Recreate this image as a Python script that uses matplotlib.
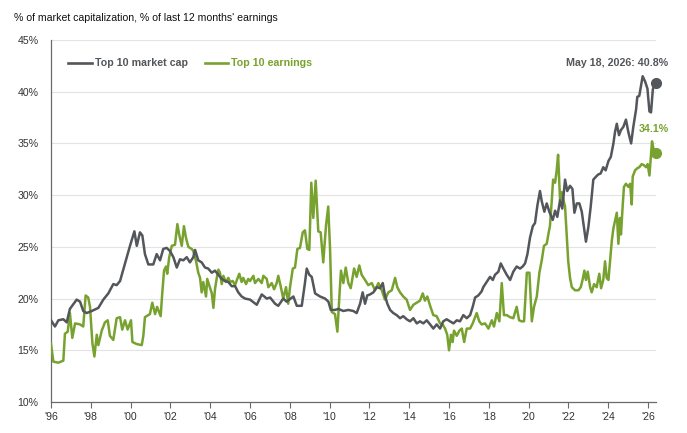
import matplotlib
matplotlib.use("Agg")
import matplotlib.pyplot as plt
from matplotlib import font_manager

# ---------------- data ----------------
mc_years = [1996.00, 1996.20, 1996.37, 1996.62, 1996.79, 1996.95, 1997.29, 1997.46, 1997.62, 1997.79,
            1998.05, 1998.38, 1998.63, 1998.88, 1999.13, 1999.30, 1999.47, 1999.63, 1999.80, 1999.97,
            2000.19, 2000.31, 2000.47, 2000.59, 2000.72, 2000.89, 2001.14, 2001.31, 2001.48, 2001.64,
            2001.81, 2001.98, 2002.15, 2002.32, 2002.48, 2002.65, 2002.82, 2002.98, 2003.15, 2003.24,
            2003.40, 2003.57, 2003.74, 2003.90, 2004.08, 2004.24, 2004.41, 2004.58, 2004.74, 2004.91,
            2005.08, 2005.25, 2005.41, 2005.58, 2005.75, 2006.00, 2006.34, 2006.59, 2006.84, 2007.01,
            2007.26, 2007.42, 2007.67, 2007.84, 2008.18, 2008.35, 2008.60, 2008.76, 2008.85, 2008.98,
            2009.10, 2009.27, 2009.52, 2009.77, 2009.94, 2010.06, 2010.27, 2010.44, 2010.69, 2010.94,
            2011.19, 2011.36, 2011.53, 2011.66, 2011.78, 2011.89, 2012.03, 2012.20, 2012.37, 2012.53,
            2012.67, 2012.78, 2012.90, 2013.04, 2013.20, 2013.37, 2013.54, 2013.70, 2013.87, 2014.04,
            2014.21, 2014.38, 2014.54, 2014.71, 2014.88, 2015.05, 2015.21, 2015.38, 2015.55, 2015.71,
            2015.88, 2016.05, 2016.22, 2016.39, 2016.55, 2016.72, 2016.89, 2017.06, 2017.19, 2017.31,
            2017.47, 2017.64, 2017.72, 2017.89, 2018.06, 2018.20, 2018.31, 2018.48, 2018.60, 2018.73,
            2018.90, 2019.07, 2019.23, 2019.40, 2019.57, 2019.70, 2019.82, 2019.94, 2020.07, 2020.21,
            2020.32, 2020.44, 2020.57, 2020.66, 2020.79, 2020.91, 2021.04, 2021.21, 2021.33, 2021.44,
            2021.58, 2021.69, 2021.83, 2021.94, 2022.08, 2022.20, 2022.30, 2022.42, 2022.55, 2022.67,
            2022.78, 2022.88, 2023.00, 2023.12, 2023.25, 2023.39, 2023.50, 2023.62, 2023.75, 2023.87,
            2024.01, 2024.13, 2024.26, 2024.34, 2024.43, 2024.54, 2024.64, 2024.76, 2024.89, 2025.01,
            2025.15, 2025.26, 2025.40, 2025.46, 2025.56, 2025.73, 2025.85, 2025.97, 2026.07, 2026.15,
            2026.24, 2026.30, 2026.38]
mc_values = [17.9, 17.3, 17.9, 18.0, 17.7, 19.0, 19.9, 19.7, 18.8, 18.6,
             18.8, 19.1, 19.9, 20.5, 21.4, 21.3, 21.7, 22.8, 24.0, 25.1,
             26.5, 25.1, 26.4, 26.1, 24.3, 23.3, 23.3, 24.3, 23.7, 24.8,
             24.9, 24.6, 24.0, 23.0, 23.8, 23.7, 24.0, 23.5, 24.0, 24.7,
             23.7, 23.5, 23.0, 22.9, 22.5, 22.7, 22.3, 21.9, 21.7, 21.6,
             21.2, 21.2, 20.6, 20.2, 20.0, 19.9, 19.4, 20.4, 20.0, 20.1,
             19.5, 19.3, 20.0, 19.7, 20.2, 19.3, 19.3, 21.5, 22.9, 22.3,
             22.1, 20.5, 20.2, 20.0, 19.7, 18.9, 18.9, 19.0, 18.8, 18.9,
             18.8, 18.6, 19.5, 20.6, 19.5, 20.3, 20.4, 20.6, 21.1, 21.0,
             21.5, 20.3, 19.5, 18.9, 18.6, 18.4, 18.1, 18.3, 18.0, 17.8,
             18.1, 17.6, 17.8, 17.6, 17.9, 17.5, 17.1, 17.5, 17.1, 17.8,
             18.0, 17.8, 17.6, 17.9, 17.8, 18.4, 18.1, 18.4, 19.2, 20.1,
             20.3, 20.7, 21.1, 21.6, 22.1, 21.8, 22.3, 22.6, 23.4, 22.9,
             22.3, 21.8, 22.6, 23.1, 22.9, 23.1, 23.4, 24.3, 25.9, 27.0,
             27.3, 29.0, 30.4, 29.4, 28.4, 29.2, 28.4, 27.6, 28.5, 27.9,
             29.5, 28.7, 31.5, 30.4, 30.9, 30.6, 28.3, 29.2, 29.2, 28.4,
             26.9, 25.5, 26.9, 28.9, 31.5, 31.8, 32.0, 32.1, 32.7, 32.4,
             33.3, 33.7, 35.0, 36.1, 36.9, 35.8, 36.3, 36.6, 37.3, 36.1,
             35.0, 36.6, 38.3, 39.5, 39.6, 41.5, 41.0, 40.3, 38.1, 38.0,
             40.2, 40.6, 40.8]

earn_years = [1996.00, 1996.12, 1996.37, 1996.62, 1996.70, 1996.84, 1996.95, 1997.07, 1997.21, 1997.46,
              1997.62, 1997.74, 1997.87, 1997.96, 1998.08, 1998.18, 1998.30, 1998.38, 1998.55, 1998.71,
              1998.85, 1998.96, 1999.13, 1999.30, 1999.47, 1999.58, 1999.72, 1999.85, 2000.02, 2000.09,
              2000.31, 2000.56, 2000.64, 2000.72, 2000.97, 2001.09, 2001.23, 2001.33, 2001.51, 2001.59,
              2001.68, 2001.78, 2001.84, 2001.94, 2002.07, 2002.23, 2002.35, 2002.45, 2002.57, 2002.68,
              2002.78, 2002.90, 2003.07, 2003.15, 2003.29, 2003.40, 2003.49, 2003.57, 2003.65, 2003.79,
              2003.85, 2003.95, 2004.08, 2004.16, 2004.24, 2004.33, 2004.41, 2004.49, 2004.58, 2004.66,
              2004.79, 2004.91, 2005.00, 2005.13, 2005.25, 2005.36, 2005.46, 2005.58, 2005.66, 2005.80,
              2005.91, 2006.00, 2006.17, 2006.25, 2006.42, 2006.59, 2006.67, 2006.84, 2006.92, 2007.09,
              2007.21, 2007.34, 2007.42, 2007.54, 2007.67, 2007.81, 2007.92, 2008.01, 2008.15, 2008.26,
              2008.38, 2008.51, 2008.65, 2008.76, 2008.88, 2008.98, 2009.08, 2009.18, 2009.30, 2009.43,
              2009.55, 2009.68, 2009.82, 2009.93, 2010.02, 2010.11, 2010.27, 2010.39, 2010.49, 2010.57,
              2010.69, 2010.81, 2010.94, 2011.06, 2011.23, 2011.36, 2011.49, 2011.61, 2011.78, 2011.94,
              2012.12, 2012.28, 2012.45, 2012.62, 2012.78, 2012.95, 2013.12, 2013.29, 2013.40, 2013.54,
              2013.70, 2013.87, 2014.04, 2014.21, 2014.38, 2014.54, 2014.68, 2014.79, 2014.91, 2015.05,
              2015.21, 2015.38, 2015.55, 2015.68, 2015.80, 2015.91, 2016.00, 2016.10, 2016.18, 2016.25,
              2016.39, 2016.52, 2016.64, 2016.76, 2016.89, 2017.06, 2017.19, 2017.39, 2017.52, 2017.64,
              2017.81, 2017.98, 2018.15, 2018.26, 2018.40, 2018.53, 2018.65, 2018.76, 2018.90, 2019.07,
              2019.23, 2019.40, 2019.52, 2019.65, 2019.77, 2019.91, 2020.04, 2020.16, 2020.27, 2020.41,
              2020.54, 2020.66, 2020.77, 2020.91, 2020.99, 2021.07, 2021.16, 2021.23, 2021.33, 2021.41,
              2021.48, 2021.58, 2021.66, 2021.74, 2021.83, 2021.91, 2021.99, 2022.08, 2022.17, 2022.33,
              2022.50, 2022.62, 2022.72, 2022.80, 2022.88, 2022.97, 2023.09, 2023.17, 2023.29, 2023.42,
              2023.55, 2023.64, 2023.75, 2023.84, 2023.92, 2024.01, 2024.09, 2024.18, 2024.26, 2024.34,
              2024.43, 2024.51, 2024.59, 2024.64, 2024.73, 2024.79, 2024.89, 2025.01, 2025.10, 2025.18,
              2025.23, 2025.35, 2025.46, 2025.56, 2025.68, 2025.79, 2025.90, 2025.98, 2026.07, 2026.14,
              2026.20, 2026.27, 2026.38]
earn_values = [15.6, 13.9, 13.8, 14.0, 16.6, 16.8, 18.6, 16.2, 17.6, 17.5,
               17.3, 20.3, 20.1, 19.2, 15.7, 14.4, 16.5, 15.5, 16.9, 17.7,
               17.9, 16.4, 16.0, 18.1, 18.2, 17.0, 17.9, 17.0, 17.9, 15.8,
               15.6, 15.5, 16.4, 18.2, 18.5, 19.6, 18.5, 19.2, 18.3, 20.5,
               22.7, 23.1, 22.4, 24.0, 25.1, 25.2, 27.2, 26.1, 25.1, 27.0,
               25.9, 25.0, 24.8, 24.6, 23.6, 22.5, 22.0, 20.6, 21.6, 20.2,
               21.9, 21.3, 20.5, 19.1, 20.9, 22.0, 22.8, 22.5, 21.4, 22.2,
               21.6, 22.0, 21.6, 21.7, 21.3, 21.9, 22.4, 21.6, 22.0, 21.4,
               21.9, 21.7, 22.2, 21.5, 21.9, 21.5, 22.2, 21.9, 21.1, 21.5,
               20.9, 21.5, 22.2, 21.2, 20.0, 21.1, 19.5, 21.1, 22.9, 23.0,
               24.8, 24.9, 26.4, 26.6, 24.8, 24.7, 31.2, 27.8, 31.4, 26.5,
               26.4, 23.5, 27.1, 28.9, 24.9, 18.7, 18.5, 16.8, 20.2, 22.7,
               21.5, 23.0, 21.5, 21.0, 22.9, 22.1, 23.2, 22.3, 21.8, 21.3,
               21.5, 20.8, 21.5, 20.8, 19.9, 20.6, 20.8, 22.0, 21.1, 20.6,
               20.2, 19.9, 18.9, 19.4, 19.6, 19.8, 20.5, 19.8, 20.2, 19.3,
               18.4, 18.3, 17.6, 17.5, 17.1, 16.5, 15.0, 16.5, 15.8, 16.9,
               16.4, 16.9, 17.1, 15.8, 17.1, 17.1, 17.6, 18.6, 17.8, 17.5,
               17.6, 17.1, 17.9, 17.3, 18.6, 17.8, 21.5, 18.4, 18.4, 18.2,
               18.1, 19.2, 17.9, 17.8, 17.8, 22.5, 22.5, 17.8, 19.2, 20.2,
               22.5, 23.7, 25.1, 25.3, 26.2, 27.0, 29.4, 31.5, 31.2, 32.4,
               33.9, 29.5, 30.3, 29.6, 28.9, 26.2, 23.6, 22.0, 21.1, 20.8,
               20.8, 21.1, 21.9, 22.7, 21.8, 22.6, 21.1, 20.6, 21.4, 21.1,
               22.4, 21.0, 21.8, 23.6, 22.0, 21.8, 23.6, 25.6, 26.8, 27.5,
               28.3, 25.3, 27.8, 26.2, 29.1, 30.8, 31.1, 30.8, 31.1, 29.1,
               31.8, 32.4, 32.6, 32.7, 33.0, 32.9, 32.7, 33.0, 31.9, 33.7,
               35.2, 34.5, 34.1]

x_ticks = list(range(1996, 2027, 2))
x_tick_labels = ["'" + str(y)[2:] for y in x_ticks]
y_ticks = [10, 15, 20, 25, 30, 35, 40, 45]
y_tick_labels = [f"{v}%" for v in y_ticks]

series_names = ["Top 10 market cap", "Top 10 earnings"]
title_text = "% of market capitalization, % of last 12 months' earnings"
end_label_mc = "May 18, 2026: 40.8%"
end_label_earn = "34.1%"

# ---------------- style ----------------
GRAY = "#53565a"
GREEN = "#78a22f"
AXIS = "#6b6b6b"

available = {f.name for f in font_manager.fontManager.ttflist}
base_font = "Liberation Sans" if "Liberation Sans" in available else "DejaVu Sans"
narrow_font = "Liberation Sans Narrow" if "Liberation Sans Narrow" in available else base_font
plt.rcParams["font.family"] = [base_font, "DejaVu Sans"]

W, H = 687, 433
fig = plt.figure(figsize=(W / 100, H / 100), dpi=100)
fig.patch.set_facecolor("white")

left, right, top, bottom = 51, 656, 40, 402
ax = fig.add_axes([left / W, 1 - bottom / H, (right - left) / W, (bottom - top) / H])

ax.plot(earn_years, earn_values, color=GREEN, lw=1.8, solid_joinstyle="round", zorder=3)
ax.plot(mc_years, mc_values, color=GRAY, lw=1.8, solid_joinstyle="round", zorder=4)
ax.plot([mc_years[-1]], [mc_values[-1]], "o", color=GRAY, ms=7, zorder=5, clip_on=False)
ax.plot([earn_years[-1]], [earn_values[-1]], "o", color=GREEN, ms=7, zorder=5, clip_on=False)

ax.set_xlim(1996, 2026.4)
ax.set_ylim(10, 45)
ax.set_yticks(y_ticks)
ax.set_yticklabels(y_tick_labels)
ax.set_xticks(x_ticks)
ax.set_xticklabels(x_tick_labels, fontfamily=narrow_font)

ax.grid(axis="y", color="#e3e3e3", lw=0.8, zorder=0)
ax.set_axisbelow(True)
for s in ["top", "right"]:
    ax.spines[s].set_visible(False)
for s in ["left", "bottom"]:
    ax.spines[s].set_color(AXIS)
    ax.spines[s].set_linewidth(0.9)
ax.tick_params(axis="y", length=0, pad=9, labelsize=7.6, labelcolor="#333333")
ax.tick_params(axis="x", length=4, width=0.8, color=AXIS, pad=3, labelsize=7.6, labelcolor="#333333")

# title
fig.text(14 / W, 1 - 18 / H, title_text, fontsize=7.6, color="#111111", ha="left", va="center")

# legend (manual)
ly = 1 - 62.5 / H
fig.add_artist(plt.Line2D([68 / W, 92 / W], [ly, ly], color=GRAY, lw=1.9))
fig.text(95 / W, ly, series_names[0], fontsize=7.7, fontweight="bold", color=GRAY, ha="left", va="center")
fig.add_artist(plt.Line2D([205 / W, 228 / W], [ly, ly], color=GREEN, lw=1.9))
fig.text(231 / W, ly, series_names[1], fontsize=7.7, fontweight="bold", color=GREEN, ha="left", va="center")

# end annotations
fig.text(668 / W, 1 - 62.5 / H, end_label_mc, fontsize=7.7, fontweight="bold", color=GRAY, ha="right", va="center")
fig.text(669 / W, 1 - 129 / H, end_label_earn, fontsize=7.7, fontweight="bold", color=GREEN, ha="right", va="center")

fig.savefig("out.png", dpi=100, facecolor="white")
